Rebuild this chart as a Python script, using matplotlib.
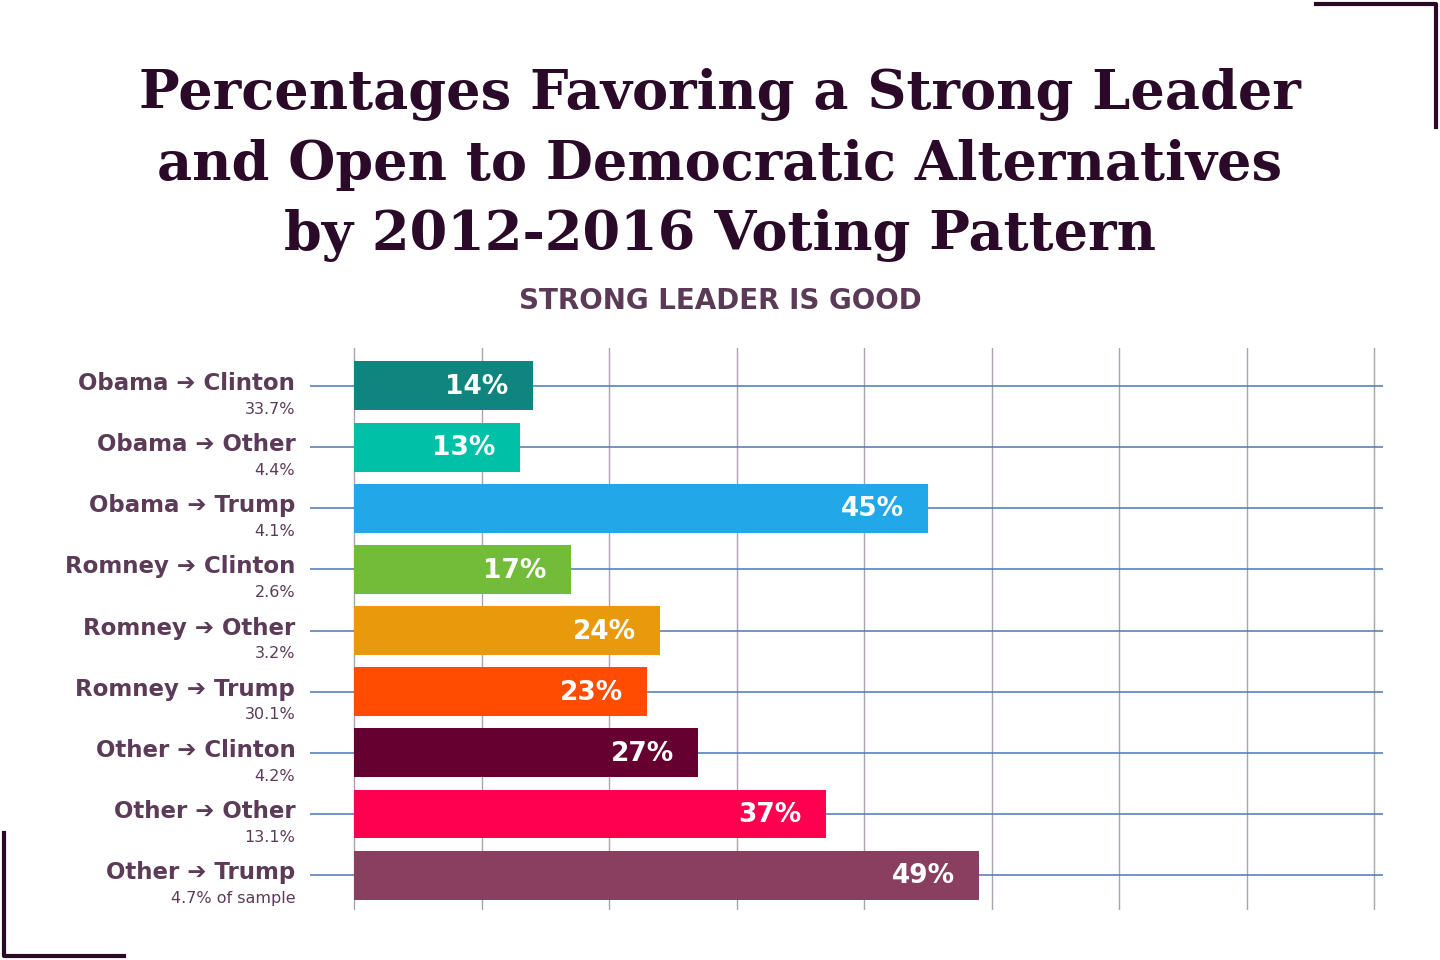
import matplotlib.pyplot as plt
from matplotlib.lines import Line2D

# data
groups = ['Obama \u2794 Clinton', 'Obama \u2794 Other', 'Obama \u2794 Trump',
          'Romney \u2794 Clinton', 'Romney \u2794 Other', 'Romney \u2794 Trump',
          'Other \u2794 Clinton', 'Other \u2794 Other', 'Other \u2794 Trump']
shares = ['33.7%', '4.4%', '4.1%', '2.6%', '3.2%', '30.1%', '4.2%', '13.1%', '4.7% of sample']
values = [14, 13, 45, 17, 24, 23, 27, 37, 49]
colors = ['#10847E', '#00C0A8', '#22A8E8', '#72BC3A', '#E89A0C',
          '#FF4C00', '#650030', '#FF0050', '#8A3E60']

title_col = '#2A0A28'
label_col = '#5C3B58'

fig = plt.figure(figsize=(14.4, 9.6), dpi=100)
fig.patch.set_facecolor('white')

# axes: x 310..1383 px, y 348..910 px
W, H = 1440, 960
ax = fig.add_axes([310 / W, 1 - 910 / H, (1383 - 310) / W, (910 - 348) / H])
ax.set_xlim(-3.45, 80.7)
ax.set_ylim(8.57, -0.62)
ax.axis('off')

for gx in range(0, 90, 10):
    ax.axvline(gx, color='#ABA3AE', lw=1, zorder=1)
for i in range(len(values)):
    ax.axhline(i, color='#4A78B8', lw=1.1, zorder=1)

ax.barh(range(len(values)), values, height=0.8, color=colors, zorder=2)

for i, v in enumerate(values):
    ax.text(v - 1.9, i + 0.02, f'{v}%', color='white', fontsize=19, fontweight='bold',
            ha='right', va='center', zorder=3)
    ax.text(-4.6, i - 0.04, groups[i], color=label_col, fontsize=16.5, fontweight='bold',
            ha='right', va='center')
    ax.text(-4.6, i + 0.38, shares[i], color=label_col, fontsize=11.5,
            ha='right', va='center')

title = ('Percentages Favoring a Strong Leader\n'
         'and Open to Democratic Alternatives\n'
         'by 2012-2016 Voting Pattern')
fig.text(0.5, 1 - 165 / H, title, ha='center', va='center', color=title_col,
         fontsize=39, fontweight='bold', family='DejaVu Serif', linespacing=1.43)
fig.text(0.5, 1 - 301 / H, 'STRONG LEADER IS GOOD', ha='center', va='center',
         color='#5A3A56', fontsize=20, fontweight='bold')

# corner brackets
fig.add_artist(Line2D([1316 / W, 1436 / W, 1436 / W], [1 - 4 / H, 1 - 4 / H, 1 - 127 / H],
                      color=title_col, lw=3))
fig.add_artist(Line2D([4 / W, 4 / W, 124 / W], [1 - 833 / H, 1 - 956 / H, 1 - 956 / H],
                      color=title_col, lw=3))

fig.savefig('out.png', dpi=100)
